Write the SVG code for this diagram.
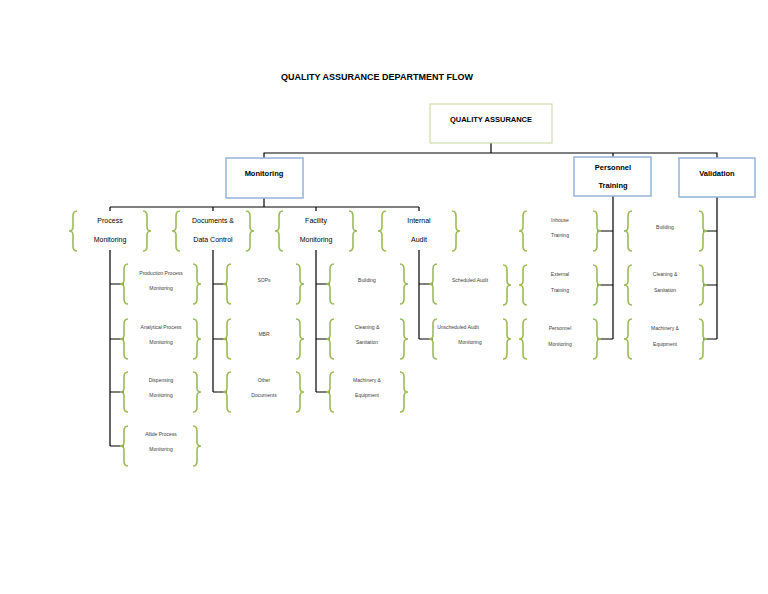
<svg xmlns="http://www.w3.org/2000/svg" xmlns:xlink="http://www.w3.org/1999/xlink" width="768" height="594" viewBox="0 0 768 594">
<style>
.box{fill:#fff;stroke:#95b3d7;stroke-width:1.5}
.qa{fill:#fff;stroke:#c3d69b;stroke-width:1}
.ln{fill:none;stroke:#000;stroke-width:1.2}
.br{fill:none;stroke:#9bbb59;stroke-width:1.6}
text{font-family:"Liberation Sans",Arial,sans-serif;text-anchor:middle}
.t{font-size:9px;font-weight:bold}
.h{font-size:7.5px;font-weight:bold}
.l2{font-size:7px}
.c{font-size:5px;fill:#404040}
</style>
<defs>
<path id="L" class="br" d="M4,0 Q0,0 0,5 L0,16 Q0,20 -4,20 Q0,20 0,24 L0,35 Q0,40 4,40"/>
<path id="R" class="br" d="M-4,0 Q0,0 0,5 L0,16 Q0,20 4,20 Q0,20 0,24 L0,35 Q0,40 -4,40"/>
</defs>
<text class="t" x="377" y="80">QUALITY ASSURANCE DEPARTMENT FLOW</text>
<g id="connectors">
<path class="ln" d="M491,143V153 M264,158V153H717V158 M613,153V157"/>
<path class="ln" d="M264,198V207 M110,207H419 M110,207V211 M213,207V211 M316,207V211 M419,207V211"/>
<path class="ln" d="M110,250V446 M110,284H124 M110,339H124 M110,392H124 M110,446H124"/>
<path class="ln" d="M213,250V392 M213,284H227 M213,339H227 M213,392H227"/>
<path class="ln" d="M316,250V392 M316,284H330 M316,339H330 M316,392H330"/>
<path class="ln" d="M419,250V339 M419,284H433 M419,339H433"/>
<path class="ln" d="M613,196V339 M597,231H613 M597,285H613 M597,339H613"/>
<path class="ln" d="M717,197V339 M703,231H717 M703,285H717 M703,339H717"/>
</g>
<g id="qa"><rect class="qa" x="430" y="104" width="122" height="39"/><text class="h" x="491" y="122">QUALITY ASSURANCE</text></g>
<g id="monitoring"><rect class="box" x="226" y="158" width="77" height="40"/><text class="h" x="264" y="176">Monitoring</text></g>
<g id="personnel"><rect class="box" x="574" y="157" width="77" height="39"/><text class="h" x="613" y="170">Personnel</text><text class="h" x="613" y="188">Training</text></g>
<g id="validation"><rect class="box" x="679" y="158" width="76" height="39"/><text class="h" x="717" y="176">Validation</text></g>

<g id="process"><use href="#L" x="73" y="211"/><use href="#R" x="147" y="211"/><text class="l2" x="110" y="223">Process</text><text class="l2" x="110" y="242">Monitoring</text></g>
<g id="documents"><use href="#L" x="176" y="211"/><use href="#R" x="250" y="211"/><text class="l2" x="213" y="223">Documents &amp;</text><text class="l2" x="213" y="242">Data Control</text></g>
<g id="facility"><use href="#L" x="279" y="211"/><use href="#R" x="353" y="211"/><text class="l2" x="316" y="223">Facility</text><text class="l2" x="316" y="242">Monitoring</text></g>
<g id="internal"><use href="#L" x="382" y="211"/><use href="#R" x="456" y="211"/><text class="l2" x="419" y="223">Internal</text><text class="l2" x="419" y="242">Audit</text></g>

<g id="pm1"><use href="#L" x="124" y="264"/><use href="#R" x="197" y="264"/><text class="c" x="161" y="275">Production Process</text><text class="c" x="161" y="290">Monitoring</text></g>
<g id="pm2"><use href="#L" x="124" y="319"/><use href="#R" x="197" y="319"/><text class="c" x="161" y="329">Analytical Process</text><text class="c" x="161" y="344">Monitoring</text></g>
<g id="pm3"><use href="#L" x="124" y="372"/><use href="#R" x="197" y="372"/><text class="c" x="161" y="382">Dispensing</text><text class="c" x="161" y="397">Monitoring</text></g>
<g id="pm4"><use href="#L" x="124" y="426"/><use href="#R" x="197" y="426"/><text class="c" x="161" y="436">Allide Process</text><text class="c" x="161" y="451">Monitoring</text></g>

<g id="d1"><use href="#L" x="227" y="264"/><use href="#R" x="300" y="264"/><text class="c" x="264" y="282">SOPs</text></g>
<g id="d2"><use href="#L" x="227" y="319"/><use href="#R" x="300" y="319"/><text class="c" x="264" y="336">MBR</text></g>
<g id="d3"><use href="#L" x="227" y="372"/><use href="#R" x="300" y="372"/><text class="c" x="264" y="382">Other</text><text class="c" x="264" y="397">Documents</text></g>

<g id="f1"><use href="#L" x="330" y="264"/><use href="#R" x="404" y="264"/><text class="c" x="367" y="282">Building</text></g>
<g id="f2"><use href="#L" x="330" y="319"/><use href="#R" x="404" y="319"/><text class="c" x="367" y="329">Cleaning &amp;</text><text class="c" x="367" y="344">Sanitation</text></g>
<g id="f3"><use href="#L" x="330" y="372"/><use href="#R" x="404" y="372"/><text class="c" x="367" y="382">Machinery &amp;</text><text class="c" x="367" y="397">Equipment</text></g>

<g id="a1"><use href="#L" x="433" y="264"/><use href="#R" x="507" y="265"/><text class="c" x="470" y="282">Scheduled Audit</text></g>
<g id="a2"><use href="#L" x="433" y="319"/><use href="#R" x="507" y="319"/><text class="c" x="458" y="329">Unscheduled Audit</text><text class="c" x="470" y="344">Monitoring</text></g>

<g id="t1"><use href="#L" x="523" y="211"/><use href="#R" x="597" y="211"/><text class="c" x="560" y="222">Inhouse</text><text class="c" x="560" y="237">Training</text></g>
<g id="t2"><use href="#L" x="523" y="265"/><use href="#R" x="597" y="265"/><text class="c" x="560" y="276">External</text><text class="c" x="560" y="292">Training</text></g>
<g id="t3"><use href="#L" x="523" y="319"/><use href="#R" x="597" y="319"/><text class="c" x="560" y="330">Personnel</text><text class="c" x="560" y="346">Monitoring</text></g>

<g id="v1"><use href="#L" x="628" y="211"/><use href="#R" x="703" y="211"/><text class="c" x="665" y="229">Building</text></g>
<g id="v2"><use href="#L" x="628" y="265"/><use href="#R" x="703" y="265"/><text class="c" x="665" y="276">Cleaning &amp;</text><text class="c" x="665" y="292">Sanitation</text></g>
<g id="v3"><use href="#L" x="628" y="319"/><use href="#R" x="703" y="319"/><text class="c" x="665" y="330">Machinery &amp;</text><text class="c" x="665" y="346">Equipment</text></g>
</svg>
